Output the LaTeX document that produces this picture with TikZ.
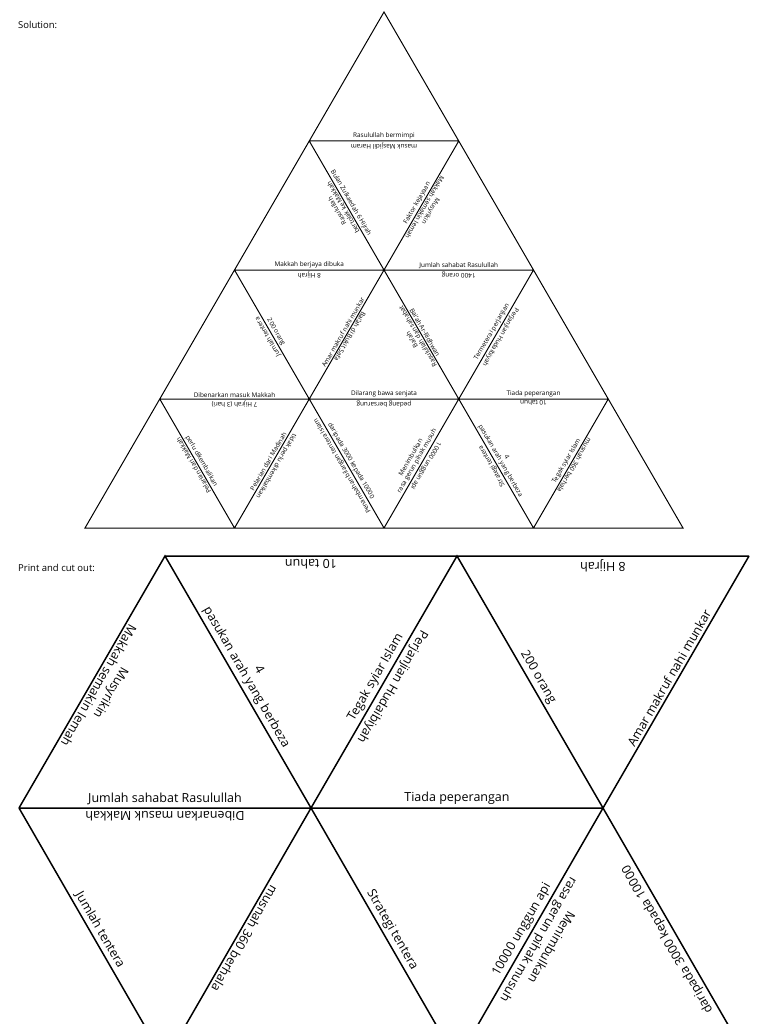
\documentclass[tikz,border=0pt]{standalone}
\usepackage{fontspec}
\setmainfont{Open Sans}
\usetikzlibrary{calc}
\tikzset{
  side/.style={line width=1pt},
  cutline/.style={line width=1.5pt},
  tag/.style={anchor=south,inner sep=1.5pt,align=center,
    font=\fontsize{6.4}{7}\selectfont},
  bigtag/.style={anchor=south,inner sep=3pt,align=center,
    font=\fontsize{12.5}{14.5}\selectfont},
  heading/.style={anchor=west,inner sep=0pt,font=\fontsize{9.5}{11}\selectfont}
}

\begin{document}
\begin{tikzpicture}[x=1pt,y=-1pt]
  \useasboundingbox (0,0) rectangle (768,1024);
  \clip (0,0) rectangle (768,1024);
  \node (solution) [heading] at (18,25) {Solution:};
  \node (print) [heading] at (18,568) {Print and cut out:};

  % solution grid
  \foreach \k in {0,...,4}
    \foreach \j in {0,...,\k}
      \coordinate (p\k\j) at ({384-74.75*\k+149.5*\j},{12+129*\k});
  \draw [side] (p00) -- (p40) -- (p44) -- cycle
    (p10) -- (p11) (p20) -- (p22) (p30) -- (p33)
    (p10) -- (p43) (p20) -- (p42) (p30) -- (p41)
    (p11) -- (p41) (p22) -- (p42) (p33) -- (p43);

  \node (bermimpi) [tag] at ($(p10)!0.5!(p11)$) {Rasulullah bermimpi};
  \node (masjid) [tag,rotate=180] at ($(p10)!0.5!(p11)$) {masuk Masjidil Haram};
  \node (bertolak) [tag,rotate=120] at ($(p10)!0.5!(p21)$) {Rasulullah\\bertolak ke Makkah};
  \node (zulkaedah) [tag,rotate=-60] at ($(p10)!0.5!(p21)$) {Bulan Zulkaedah 6 Hijrah};
  \node (faktor) [tag,rotate=60] at ($(p11)!0.5!(p21)$) {Faktor kejayaan};
  \node (musyrikin) [tag,rotate=-120] at ($(p11)!0.5!(p21)$) {Musyrikin\\Makkah semakin lemah};
  \node (dibuka) [tag] at ($(p20)!0.5!(p21)$) {Makkah berjaya dibuka};
  \node (lapan) [tag,rotate=180] at ($(p20)!0.5!(p21)$) {8 Hijrah};
  \node (sahabat) [tag] at ($(p21)!0.5!(p22)$) {Jumlah sahabat Rasulullah};
  \node (seribu) [tag,rotate=180] at ($(p21)!0.5!(p22)$) {1400 orang};

  \node (tentera) [tag,rotate=120] at ($(p20)!0.5!(p31)$) {Jumlah tentera};
  \node (duaratus) [tag,rotate=-60] at ($(p20)!0.5!(p31)$) {200 orang};
  \node (amar) [tag,rotate=60] at ($(p21)!0.5!(p31)$) {Amar makruf nahi munkar};
  \node (safa) [tag,rotate=-120] at ($(p21)!0.5!(p31)$) {Bai'ah di Bukit Safa};
  \node (baiah) [tag,rotate=120] at ($(p21)!0.5!(p32)$) {Bai'ah\\Rasulullah dan sahabat};
  \node (ridhwan) [tag,rotate=-60] at ($(p21)!0.5!(p32)$) {Bai'ah Ar-Ridhwan};
  \node (termeterai) [tag,rotate=60] at ($(p22)!0.5!(p32)$) {Termeterai perjanjian};
  \node (hudaibiyah) [tag,rotate=-120] at ($(p22)!0.5!(p32)$) {Perjanjian Hudaibiyah};
  \node (dibenarkan) [tag] at ($(p30)!0.5!(p31)$) {Dibenarkan masuk Makkah};
  \node (tujuh) [tag,rotate=180] at ($(p30)!0.5!(p31)$) {7 Hijrah (3 hari)};
  \node (dilarang) [tag] at ($(p31)!0.5!(p32)$) {Dilarang bawa senjata};
  \node (pedang) [tag,rotate=180] at ($(p31)!0.5!(p32)$) {pedang bersarung};
  \node (tiada) [tag] at ($(p32)!0.5!(p33)$) {Tiada peperangan};
  \node (sepuluh) [tag,rotate=180] at ($(p32)!0.5!(p33)$) {10 tahun};

  \node (larimakkah) [tag,rotate=120] at ($(p30)!0.5!(p41)$) {Pelarian dari Makkah};
  \node (kembali) [tag,rotate=-60] at ($(p30)!0.5!(p41)$) {perlu dikembalikan};
  \node (larimadinah) [tag,rotate=60] at ($(p31)!0.5!(p41)$) {Pelarian dari Madinah};
  \node (tidakkembali) [tag,rotate=-120] at ($(p31)!0.5!(p41)$) {tidak perlu dikembalikan};
  \node (tambah) [tag,rotate=120] at ($(p31)!0.5!(p42)$) {Penambahan bilangan tentera Islam};
  \node (daripada) [tag,rotate=-60] at ($(p31)!0.5!(p42)$) {daripada 3000 kepada 10000};
  \node (gerun) [tag,rotate=60] at ($(p32)!0.5!(p42)$) {Menimbulkan\\rasa gerun pihak musuh};
  \node (unggun) [tag,rotate=-120] at ($(p32)!0.5!(p42)$) {10000 unggun api};
  \node (strategi) [tag,rotate=120] at ($(p32)!0.5!(p43)$) {Strategi tentera};
  \node (pasukan) [tag,rotate=-60] at ($(p32)!0.5!(p43)$) {4\\pasukan arah yang berbeza};
  \node (syiar) [tag,rotate=60] at ($(p33)!0.5!(p43)$) {Tegak syiar Islam};
  \node (berhala) [tag,rotate=-120] at ($(p33)!0.5!(p43)$) {musnah 360 berhala};

  % cut-out sheet
  \foreach \i/\x in {0/165,1/457,2/749} {
    \coordinate (q\i) at (\x,556);
    \coordinate (r\i) at (\x-146,808);
    \coordinate (s\i) at (\x,1061);
  }
  \draw [cutline] (q0) -- (q2) (r0) -- (r2)
    (r0) -- (q0) -- (r1) -- (q1) -- (r2) -- (q2)
    (r0) -- (s0) -- (r1) -- (s1) -- (r2) -- (s2);

  \node (csahabat) [bigtag] at ($(r0)!0.5!(r1)$) {Jumlah sahabat Rasulullah};
  \node (cdibenarkan) [bigtag,rotate=180] at ($(r0)!0.5!(r1)$) {Dibenarkan masuk Makkah};
  \node (cmusyrikin) [bigtag,rotate=-120] at ($(q0)!0.5!(r0)$) {Musyrikin\\Makkah semakin lemah};
  \node (cpasukan) [bigtag,rotate=-60] at ($(q0)!0.5!(r1)$) {4\\pasukan arah yang berbeza};
  \node (csepuluh) [bigtag,rotate=180] at ($(q0)!0.5!(q1)$) {10 tahun};
  \node (csyiar) [bigtag,rotate=60] at ($(q1)!0.5!(r1)$) {Tegak syiar Islam};
  \node (chudaibiyah) [bigtag,rotate=-120] at ($(q1)!0.5!(r1)$) {Perjanjian Hudaibiyah};
  \node (ctiada) [bigtag] at ($(r1)!0.5!(r2)$) {Tiada peperangan};
  \node (cduaratus) [bigtag,rotate=-60] at ($(q1)!0.5!(r2)$) {200 orang};
  \node (clapan) [bigtag,rotate=180] at ($(q1)!0.5!(q2)$) {8 Hijrah};
  \node (camar) [bigtag,rotate=60] at ($(q2)!0.5!(r2)$) {Amar makruf nahi munkar};
  \node (ctentera) [bigtag,rotate=-60] at ($(r0)!0.5!(s0)$) {Jumlah tentera};
  \node (cberhala) [bigtag,rotate=-120] at ($(r1)!0.5!(s0)$) {musnah 360 berhala};
  \node (cstrategi) [bigtag,rotate=-60] at ($(r1)!0.5!(s1)$) {Strategi tentera};
  \node (cunggun) [bigtag,rotate=60] at ($(r2)!0.5!(s1)$) {10000 unggun api};
  \node (cgerun) [bigtag,rotate=-120] at ($(r2)!0.5!(s1)$) {Menimbulkan\\rasa gerun pihak musuh};
  \node (cdaripada) [bigtag,rotate=120] at ($(r2)!0.5!(s2)$) {daripada 3000 kepada 10000};
\end{tikzpicture}
\end{document}
